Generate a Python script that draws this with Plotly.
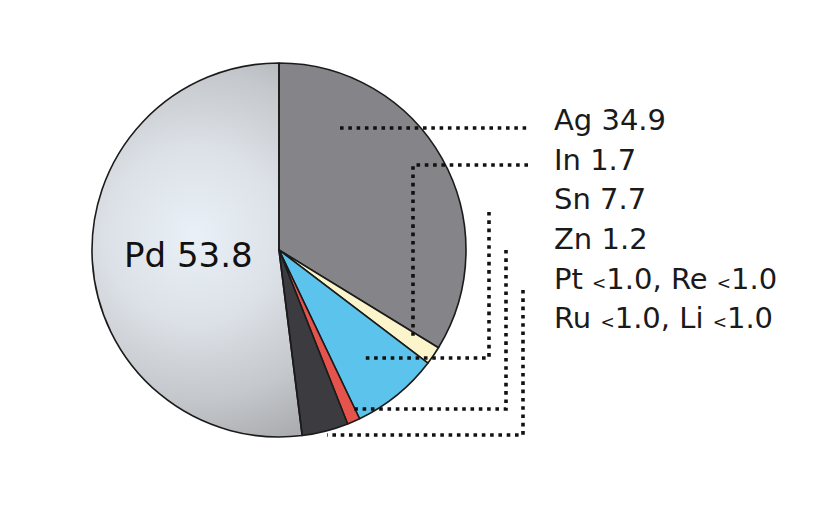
import base64
import plotly.graph_objects as go

# ---------------- data ----------------
elements = ["Ag", "In", "Sn", "Zn", "Pt/Re/Ru/Li", "Pd"]
slice_share = [33.75, 1.58, 7.58, 1.11, 4.0, 51.98]   # drawn slice sizes (measured angles)
slice_colors = ["#858489", "#fcf5cb", "#5cc3ec", "#e5534d", "#3c3b40", "rgba(0,0,0,0)"]

label_lines = [
    "Ag 34.9",
    "In 1.7",
    "Sn 7.7",
    "Zn 1.2",
    "Pt <1.0, Re <1.0",
    "Ru <1.0, Li <1.0",
]
pd_label = "Pd 53.8"

W, H = 833, 516
OFF = 8  # page body margin
FONT = "DejaVu Sans"

def px(x):
    return (x - OFF) / W

def py(y):
    return 1 - (y - OFF) / H

# pie geometry (screen pixels)
CX, CY, R = 279, 250, 187

fig = go.Figure()

fig.add_trace(go.Pie(
    labels=elements,
    values=slice_share,
    sort=False,
    direction="clockwise",
    rotation=0,
    marker=dict(colors=slice_colors, line=dict(color="#1b1b1b", width=1.6)),
    textinfo="none",
    hoverinfo="skip",
    showlegend=False,
    domain=dict(x=[px(CX - R), px(CX + R)], y=[py(CY + R), py(CY - R)]),
))

# radial gradient behind the (transparent) Pd slice
svg = f'''<svg xmlns="http://www.w3.org/2000/svg" width="{2*R}" height="{2*R}" viewBox="0 0 {2*R} {2*R}">
<defs><radialGradient id="g" gradientUnits="userSpaceOnUse" cx="{195-(CX-R)}" cy="{235-(CY-R)}" r="220">
<stop offset="0" stop-color="#e9f0f7"/>
<stop offset="0.4" stop-color="#dce1e7"/>
<stop offset="0.75" stop-color="#c4c7cb"/>
<stop offset="1" stop-color="#abadb0"/>
</radialGradient></defs>
<circle cx="{R}" cy="{R}" r="{R}" fill="url(#g)"/>
</svg>'''
src = "data:image/svg+xml;base64," + base64.b64encode(svg.encode()).decode()
fig.add_layout_image(dict(
    source=src, xref="paper", yref="paper",
    x=px(CX - R), y=py(CY - R), sizex=2 * R / W, sizey=2 * R / H,
    xanchor="left", yanchor="top", sizing="stretch", layer="below",
))

# dotted leader lines (screen pixel paths)
leaders = [
    [(340, 128), (528, 128)],
    [(528, 165), (413, 165), (413, 339)],
    [(489, 212), (489, 358), (362, 358)],
    [(506, 250), (506, 409), (351, 409)],
    [(523, 290), (523, 435), (327, 435)],
]
for pts in leaders:
    path = "M " + " L ".join(f"{px(x)},{py(y)}" for x, y in pts)
    fig.add_shape(type="path", path=path, xref="paper", yref="paper",
                  line=dict(color="#111111", width=3.6, dash="3.6px,4.7px"))

# labels
small = '<span style="font-size:17px">&lt;</span>'
label_y = [120, 160, 199, 239, 279, 318]
for txt, y in zip(label_lines, label_y):
    t = txt.replace("<", small)
    fig.add_annotation(text=t, x=px(552), y=py(y), xref="paper", yref="paper",
                       xanchor="left", yanchor="middle", showarrow=False,
                       font=dict(family=FONT, size=29, color="#1a1a1a"))

fig.add_annotation(text=pd_label, x=px(188), y=py(255), xref="paper", yref="paper",
                   xanchor="center", yanchor="middle", showarrow=False,
                   font=dict(family=FONT, size=34, color="#111111"))

fig.update_layout(
    width=W, height=H,
    margin=dict(l=0, r=0, t=0, b=0),
    paper_bgcolor="white", plot_bgcolor="white",
    xaxis=dict(visible=False), yaxis=dict(visible=False),
)

fig.write_html("out.html")
